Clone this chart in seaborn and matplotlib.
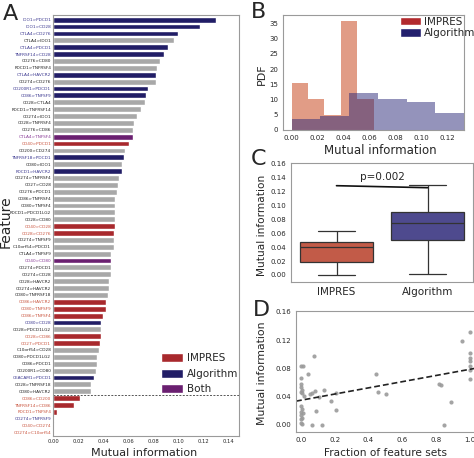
import numpy as np
import pandas as pd
import matplotlib
matplotlib.use("Agg")
import matplotlib.pyplot as plt
import seaborn as sns
from matplotlib.patches import Patch

# ---------------- data ----------------
features = [
    "IDO1>PDCD1", "IDO1>CD28", "CTLA4>CD276", "CTLA4>IDO1", "CTLA4>PDCD1",
    "TNFRSF14>CD28", "CD276>CD80", "PDCD1>TNFRSF4", "CTLA4>HAVCR2", "CD274>CD276",
    "CD200R1>PDCD1", "CD86>TNFSF9", "CD28>CTLA4", "PDCD1>TNFRSF14", "CD274>IDO1",
    "CD28>TNFRSF4", "CD276>CD86", "CTLA4>TNFSF4", "CD40>PDCD1", "CD200>CD274",
    "TNFRSF18>PDCD1", "CD80>IDO1", "PDCD1>HAVCR2", "CD274>TNFRSF4", "CD27>CD28",
    "CD276>PDCD1", "CD86>TNFRSF4", "CD80>TNFSF4", "PDCD1>PDCD1LG2", "CD28>CD80",
    "CD40>CD28", "CD28>CD276", "CD274>TNFSF9", "C10orf54>PDCD1", "CTLA4>TNFSF9",
    "CD40>CD80", "CD274>PDCD1", "CD274>CD28", "CD28>HAVCR2", "CD274>HAVCR2",
    "CD80>TNFRSF18", "CD86>HAVCR2", "CD80>TNFSF9", "CD86>TNFSF4", "CD80>CD28",
    "CD28>PDCD1LG2", "CD28>CD86", "CD27>PDCD1", "C10orf54>CD28", "CD80>PDCD1LG2",
    "CD86>PDCD1", "CD200R1>CD80", "CEACAM1>PDCD1", "CD28>TNFRSF18", "CD80>HAVCR2",
    "CD86>CD200", "TNFRSF14>CD86", "PDCD1>TNFSF4", "CD274>TNFRSF9", "CD40>CD274",
    "CD274>C10orf54",
]
mutual_info = [
    0.130, 0.117, 0.100, 0.0963, 0.092,
    0.0886, 0.0856, 0.083, 0.0819, 0.0819,
    0.0755, 0.0744, 0.0736, 0.0704, 0.0667,
    0.0648, 0.0638, 0.0635, 0.0606, 0.0576,
    0.0568, 0.055, 0.0547, 0.0523, 0.052,
    0.0507, 0.0492, 0.0491, 0.049, 0.049,
    0.049, 0.0483, 0.0483, 0.0483, 0.0463,
    0.0463, 0.0462, 0.0462, 0.0448, 0.0448,
    0.0435, 0.0424, 0.0424, 0.040, 0.0384,
    0.0384, 0.0384, 0.0371, 0.0363, 0.0347,
    0.0347, 0.034, 0.0325, 0.0302, 0.0302,
    0.0216, 0.0163, 0.0028, 0.0008, 0.0,
    0.0,
]
feature_source = [
    "Algorithm", "Algorithm", "Algorithm", "Other", "Algorithm",
    "Algorithm", "Other", "Other", "Algorithm", "Other",
    "Algorithm", "Algorithm", "Other", "Other", "Other",
    "Other", "Other", "Both", "IMPRES", "Other",
    "Algorithm", "Other", "Algorithm", "Other", "Other",
    "Other", "Other", "Other", "Other", "Other",
    "IMPRES", "IMPRES", "Other", "Other", "Other",
    "Both", "Other", "Other", "Other", "Other",
    "Other", "IMPRES", "IMPRES", "IMPRES", "Algorithm",
    "Other", "IMPRES", "IMPRES", "Other", "Other",
    "Other", "Other", "Algorithm", "Other", "Other",
    "IMPRES", "IMPRES", "IMPRES", "Algorithm", "IMPRES",
    "IMPRES",
]

# panel B histograms (PDF)
impres_bin_edges = [0.0, 0.0127, 0.0254, 0.0381, 0.0508, 0.0635]
impres_pdf = [15.4, 10.2, 4.9, 35.7, 10.2]
algo_bin_edges = [0.0, 0.0222, 0.0443, 0.0665, 0.0887, 0.1108, 0.133]
algo_pdf = [3.5, 4.6, 12.2, 10.2, 9.1, 5.7]

# panel D scatter
fraction_sets = [
    0.0, 0.016, 0.0, 0.0, 0.0, 0.006, 0.0, 0.01, 0.02,
    0.004, 0.01, 0.0, 0.014, 0.004, 0.01, 0.0, 0.0, 0.01,
    0.04, 0.078, 0.054, 0.066, 0.086, 0.136, 0.106, 0.18, 0.206, 0.208, 0.088, 0.064, 0.126,
    0.446, 0.454, 0.506,
    0.816, 0.83, 0.886, 0.848,
    0.955, 1.0, 1.0, 1.0, 1.0, 1.0, 1.0, 1.0,
]
mi_scatter = [
    0.083, 0.083, 0.066, 0.058, 0.0535, 0.050, 0.047, 0.045, 0.0415,
    0.027, 0.022, 0.019, 0.017, 0.014, 0.0105, 0.008, 0.003, 0.001,
    0.0716, 0.098, 0.044, 0.045, 0.048, 0.049, 0.039, 0.034, 0.045, 0.0215, 0.020, 0.0, 0.0,
    0.0716, 0.046, 0.044,
    0.058, 0.056, 0.032, 0.0,
    0.119, 0.131, 0.101, 0.094, 0.090, 0.0836, 0.077, 0.0645,
]

# ---------------- style ----------------
sns.set_style("white")
plt.rcParams['font.family'] = ['DejaVu Sans']

bar_colors = {"Algorithm": "#211d66", "IMPRES": "#a8292d", "Both": "#6a1f70", "Other": "#a8a8a8"}
label_colors = {"Algorithm": "#3b3890", "IMPRES": "#c9543e", "Both": "#8a3c97", "Other": "#222222"}
spine_col = "#9a9a9a"

W, H = 474, 458
fig = plt.figure(figsize=(W / 100, H / 100), dpi=100)


def px_axes(x0, y0, x1, y1):
    return fig.add_axes([x0 / W, 1 - y1 / H, (x1 - x0) / W, (y1 - y0) / H])


def style_spines(ax):
    for s in ax.spines.values():
        s.set_color(spine_col)
        s.set_linewidth(0.8)
        s.set_visible(True)


# ---------------- panel A ----------------
axA = px_axes(53.3, 15, 239, 436)
sns.barplot(x=mutual_info, y=features, hue=features,
            palette=[bar_colors[g] for g in feature_source],
            legend=False, orient="h", ax=axA, width=0.85, saturation=1)
axA.set_xlim(0, 0.1485)
axA.set_ylim(60.5, -0.68)
axA.set_xticks(np.arange(0, 0.141, 0.02))
axA.set_xticklabels([f"{v:.2f}" for v in np.arange(0, 0.141, 0.02)], fontsize=3.8)
axA.tick_params(axis="y", labelsize=3.1, length=0, pad=1.5)
axA.tick_params(axis="x", length=1.5, pad=1, color="#555555")
for lbl, g in zip(axA.get_yticklabels(), feature_source):
    lbl.set_color(label_colors[g])
axA.set_xlabel("")
axA.set_ylabel("")
axA.axhline(54.5, ls=(0, (2, 1.5)), color="#555555", lw=0.7)
style_spines(axA)
legA = [Patch(facecolor=bar_colors["IMPRES"]), Patch(facecolor=bar_colors["Algorithm"]),
        Patch(facecolor=bar_colors["Both"])]
axA.legend(legA, ["IMPRES", "Algorithm", "Both"], loc="lower left",
           bbox_to_anchor=(0.58, 0.10), frameon=False, fontsize=7.5,
           handlelength=2.1, handleheight=0.95, labelspacing=0.5,
           handletextpad=0.4, borderpad=0, borderaxespad=0)
fig.text(144 / W, 1 - 453 / H, "Mutual information", fontsize=8, ha="center", va="center")
fig.text(6 / W, 1 - 222 / H, "Feature", fontsize=10, rotation=90, ha="center", va="center")

# ---------------- panel B ----------------
axB = px_axes(283, 15, 464, 130)
imp_centers = [(a + b) / 2 for a, b in zip(impres_bin_edges[:-1], impres_bin_edges[1:])]
alg_centers = [(a + b) / 2 for a, b in zip(algo_bin_edges[:-1], algo_bin_edges[1:])]
sns.histplot(x=imp_centers, weights=impres_pdf, bins=impres_bin_edges, stat="count",
             color="#cf5f3c", alpha=0.62, linewidth=0, ax=axB)
sns.histplot(x=alg_centers, weights=algo_pdf, bins=algo_bin_edges, stat="count",
             color="#2b2878", alpha=0.5, linewidth=0, ax=axB)
axB.set_xlim(-0.0066, 0.133)
axB.set_ylim(0, 37.8)
axB.set_xticks(np.arange(0, 0.121, 0.02))
axB.set_xticklabels([f"{v:.2f}" for v in np.arange(0, 0.121, 0.02)])
axB.set_yticks(np.arange(0, 36, 5))
axB.tick_params(labelsize=5, length=2, pad=1.5, color="#555555")
axB.set_xlabel("")
axB.set_ylabel("")
style_spines(axB)
legB = [Patch(facecolor="#b22a2e"), Patch(facecolor="#23206e")]
axB.legend(legB, ["IMPRES", "Algorithm"], loc="upper left", bbox_to_anchor=(0.646, 0.985),
           frameon=False, fontsize=7.5, handlelength=2.0, handleheight=0.9,
           labelspacing=0.15, handletextpad=0.3, borderpad=0, borderaxespad=0)
fig.text(262 / W, 1 - 74 / H, "PDF", fontsize=8, rotation=90, ha="center", va="center")
fig.text(380 / W, 1 - 150 / H, "Mutual information", fontsize=8.5, ha="center", va="center")

# ---------------- panel C ----------------
axC = px_axes(291, 163, 473, 282)
impres_vals = [v for v, g in zip(mutual_info, feature_source) if g in ("IMPRES", "Both")]
algo_vals = [v for v, g in zip(mutual_info, feature_source) if g in ("Algorithm", "Both")]
df_box = pd.DataFrame({
    "group": ["IMPRES"] * len(impres_vals) + ["Algorithm"] * len(algo_vals),
    "value": impres_vals + algo_vals,
})
sns.boxplot(data=df_box, x="group", y="value", hue="group", order=["IMPRES", "Algorithm"],
            palette={"IMPRES": "#c25b48", "Algorithm": "#4e4a8e"}, saturation=1,
            width=0.8, linewidth=0.9, linecolor="#333333", legend=False, ax=axC)
axC.set_xlim(-0.5, 1.5)
axC.set_ylim(-0.0101, 0.1614)
axC.set_yticks(np.arange(0, 0.161, 0.02))
axC.set_yticklabels([f"{v:.2f}" for v in np.arange(0, 0.161, 0.02)])
axC.tick_params(axis="y", labelsize=5, length=2, pad=1.5, color="#555555")
axC.tick_params(axis="x", labelsize=7.5, length=2, pad=1.5, color="#555555")
axC.set_xlabel("")
axC.set_ylabel("")
axC.plot([0, 1], [0.1287, 0.1258], color="#111111", lw=1.2)
axC.text(0.5, 0.1335, "p=0.002", fontsize=7.5, ha="center", va="bottom")
style_spines(axC)
fig.text(262 / W, 1 - 225 / H, "Mutual information", fontsize=7.6, rotation=90, ha="center", va="center")

# ---------------- panel D ----------------
axD = px_axes(296, 311, 478.5, 432)
axD.set_xlim(-0.028, 1.05)
sns.regplot(x=fraction_sets, y=mi_scatter, ci=None, truncate=False, ax=axD,
            scatter_kws={"s": 9, "color": "#9a9a9a", "alpha": 0.9, "linewidths": 0},
            line_kws={"color": "#222222", "ls": (0, (3.5, 1.8)), "lw": 1.2})
axD.set_xlim(-0.028, 1.05)
axD.set_ylim(-0.0099, 0.161)
axD.set_yticks([0, 0.04, 0.08, 0.12, 0.16])
axD.set_yticklabels(["0.00", "0.04", "0.08", "0.12", "0.16"])
axD.set_xticks(np.arange(0, 1.01, 0.2))
axD.set_xticklabels([f"{v:.1f}" for v in np.arange(0, 1.01, 0.2)])
axD.tick_params(labelsize=5, length=2, pad=1.5, color="#555555")
axD.set_xlabel("")
axD.set_ylabel("")
style_spines(axD)
fig.text(262 / W, 1 - 373 / H, "Mutual information", fontsize=7.8, rotation=90, ha="center", va="center")
fig.text(386 / W, 1 - 453 / H, "Fraction of feature sets", fontsize=7.6, ha="center", va="center")

# ---------------- panel letters ----------------
fig.text(3 / W, 1 - 20 / H, "A", fontsize=16, va="baseline")
fig.text(251 / W, 1 - 18 / H, "B", fontsize=16, va="baseline")
fig.text(251 / W, 1 - 165 / H, "C", fontsize=16, va="baseline")
fig.text(253 / W, 1 - 316 / H, "D", fontsize=16, va="baseline")

fig.savefig("out.png", dpi=100)
